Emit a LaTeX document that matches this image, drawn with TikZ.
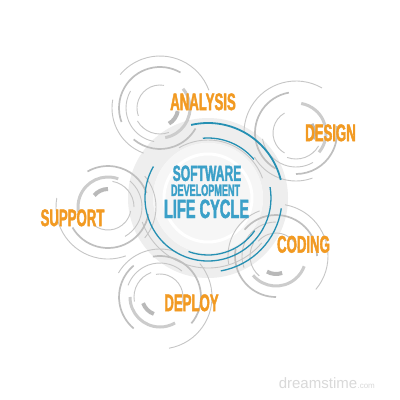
\documentclass[tikz,border=0pt]{standalone}
\usepackage{fontspec}
\setmainfont{Liberation Sans}
\newfontfamily\cond[FakeStretch=0.55,FakeBold=1.6]{Liberation Sans}
\definecolor{orng}{HTML}{F29A22}
\definecolor{bltxt}{HTML}{3BA0C8}
\definecolor{blarc}{HTML}{2590B3}
\newcommand\garc[5]{\draw[#1] (#2) ++(#3:#5) arc[start angle=#3,end angle=#4,radius=#5];}
\tikzset{
  g1/.style={gray!45, line width=0.9pt},
  g2/.style={gray!50, line width=1.7pt},
  g3/.style={gray!40, line width=3pt},
  g4/.style={gray!55, line width=4pt},
  ba/.style={blarc, line width=1.3pt},
  bb/.style={blarc, line width=1.8pt},
  lbl/.style={text=orng, font=\cond\bfseries\fontsize{24}{24}\selectfont, inner sep=0pt, text height=17.2pt, text depth=0pt},
  ctr/.style={text=bltxt, inner sep=0pt, text depth=0pt},
}
\newcommand\clusterrings{%
  \garc{g1}{0,0}{20}{140}{52}
  \garc{g1}{0,0}{170}{250}{48}
  \garc{g2}{0,0}{60}{200}{41}
  \garc{g2}{0,0}{230}{330}{41}
  \garc{g1}{0,0}{150}{260}{34}
  \garc{g3}{0,0}{280}{400}{30}
  \garc{g1}{0,0}{80}{200}{23}
  \garc{g4}{0,0}{300}{350}{18}
  \garc{g1}{0,0}{210}{290}{26}
}
\begin{document}
\begin{tikzpicture}[x=1pt,y=1pt]
\useasboundingbox (0,0) rectangle (400,-400);
\fill[white] (0,0) rectangle (400,-400);
% centre disc
\coordinate (O) at (208,-198);
\fill[gray!13, even odd rule] (O) circle (80) circle (55);
\fill[gray!7] (O) circle (55);
\draw[white, line width=3pt] (O) circle (44);
\garc{g1}{O}{200}{320}{70}
\garc{g1}{O}{20}{120}{58}
% grey ring clusters
\begin{scope}[shift={(160,-108)}, rotate=0]\clusterrings\end{scope}
\begin{scope}[shift={(296,-133)}, rotate=40]\clusterrings\end{scope}
\begin{scope}[shift={(276,-256)}, rotate=-60]\clusterrings\end{scope}
\begin{scope}[shift={(160,-297)}, rotate=-100]\clusterrings\end{scope}
\begin{scope}[shift={(108,-207)}, rotate=150]\clusterrings\end{scope}
% blue arcs
\garc{ba}{O}{150}{370}{63}
\garc{ba}{O}{95}{40}{60}
\garc{bb}{O}{103}{14}{75}
\garc{ba}{O}{-8}{-80}{74}
\garc{ba}{O}{250}{325}{57}
% centre title
\node[ctr, text height=15.8pt, font=\cond\bfseries\fontsize{22}{22}\selectfont] (t1) at (207,-173) {SOFTWARE};
\node[ctr, text height=11.8pt, font=\cond\bfseries\fontsize{16.5}{16.5}\selectfont] (t2) at (205.5,-190) {DEVELOPMENT};
\node[ctr, text height=19pt, font=\cond\bfseries\fontsize{26.5}{26.5}\selectfont] (t3) at (206.5,-208.5) {LIFE CYCLE};
% labels
\node[lbl] (analysis) at (203,-101.5) {ANALYSIS};
\node[lbl] (design) at (330.5,-132.5) {DESIGN};
\node[lbl] (coding) at (303.5,-244) {CODING};
\node[lbl] (deploy) at (191.5,-302.5) {DEPLOY};
\node[lbl] (support) at (72.5,-217.5) {SUPPORT};
% watermark
\node[text=gray!30, inner sep=0pt, font=\fontsize{15}{15}\selectfont] (wm) at (318,-383) {dreamstime};
\node[text=gray!30, inner sep=0pt, font=\fontsize{8}{8}\selectfont, anchor=south west] (wmc) at (wm.base east) {.com};
\end{tikzpicture}
\end{document}
